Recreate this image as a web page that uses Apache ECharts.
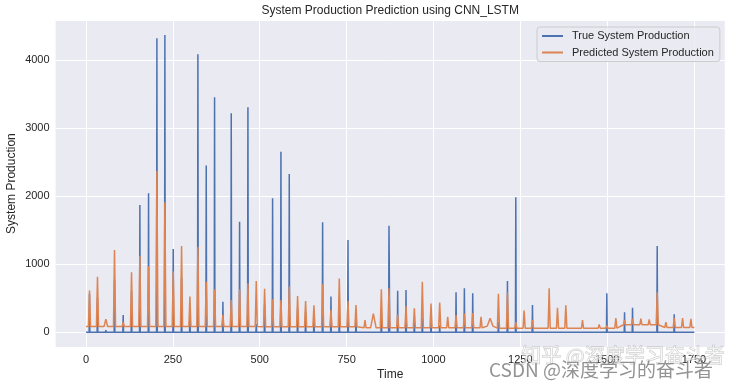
<!DOCTYPE html>
<html><head><meta charset="utf-8">
<script src="https://cdn.jsdelivr.net/npm/echarts@6/dist/echarts.min.js"></script>
<style>html,body{margin:0;padding:0;background:#fff}#c{width:732px;height:388px}</style>
</head><body><div id="c"></div>
<script>
// ---- data ----
const LAST_TIME = 1751;
const peakTime = [10,33,57,82,107,131,155,180,204,227,251,275,299,322,346,370,394,418,442,466,490,514,537,561,585,609,632,656,681,705,729,754,777,803,827,850,872,897,921,945,968,993,1018,1041,1065,1089,1113,1137,1163,1187,1213,1237,1261,1285,1309,1333,1357,1381,1405,1429,1453,1477,1499,1525,1550,1573,1597,1621,1644,1669,1693,1717,1741];
const truePeak = [560,500,30,770,254,600,1869,2041,4317,4366,
  1223,800,350,4082,2447,3451,449,3216,1624,3304,
  120,400,1968,2652,2325,350,300,250,1615,523,
  500,1355,200,0,0,300,1565,611,621,150,
  200,150,100,0,587,646,573,0,0,150,
  753,1982,0,401,0,0,0,0,0,0,
  0,0,573,0,294,361,0,0,1267,0,
  264,0,0];
const trueExtraTime = [873];
const trueExtraValue = [866];
const predPeak = [611,816,191,1208,150,881,1120,973,2369,1909,
  890,1267,523,1257,743,631,254,474,631,720,
  753,640,484,474,670,533,460,395,705,328,
  788,460,401,180,273,631,646,259,386,350,
  740,420,435,225,254,273,283,227,205,565,
  582,150,317,180,85,646,360,395,80,180,
  80,115,100,208,180,200,200,190,587,150,
  210,207,197];
const predBase = [85,85,85,85,85,85,85,85,85,85,85,85,85,85,85,85,85,85,85,85,85,
  80,80,80,80,80,80,80,80,80,80,80,80,
  65,65,65,65,65,65,65,65,65,65,65,65,65,65,65,
  90,60,60,60,60,60,60,60,60,60,60,60,60,60,60,60,
  110,110,110,110,110,
  70,70,70,70];
const predHalfWidth = [3,3,5,3,3,3,3,3,3,3,3,3,3,3,3,3,3,3,3,3,3,3,3,3,3,3,3,3,3,3,3,3,3,3,8,3,3,3,3,3,3,3,3,3,3,3,3,3,8,3,3,3,3,3,3,3,3,3,3,3,3,3,3,3,3,3,3,3,3,3,3,3,3];
const seriesNames = ['True System Production','Predicted System Production'];
const xTickStep = 250, yTickStep = 1000;

// ---- build series from the arrays ----
const trueMap = new Map();
peakTime.forEach((t,i)=>{ if (truePeak[i] > 0) trueMap.set(t, truePeak[i]); });
trueExtraTime.forEach((t,i)=>trueMap.set(t, trueExtraValue[i]));
const ts = [...trueMap.keys()].sort((a,b)=>a-b);
const trueData = [[0,0]];
ts.forEach(t=>{
  if (!trueMap.has(t-1)) trueData.push([t-1,0]);
  trueData.push([t,trueMap.get(t)]);
  if (!trueMap.has(t+1)) trueData.push([t+1,0]);
});
trueData.push([LAST_TIME,0]);

const predData = [[0,predBase[0]]];
peakTime.forEach((t,i)=>{
  const w = predHalfWidth[i];
  predData.push([t-w,predBase[i]],[t,predPeak[i]],[t+w,predBase[i]]);
});
predData.push([LAST_TIME,predBase[predBase.length-1]]);

// ---- layout (matplotlib-like) ----
const L = 55.6, R = 724.8, T = 20.1, B = 347.1;
const X0 = 86.0, X1750 = 694.0, Y0 = 332.3;
const dataMax = Math.max(...truePeak);
const yMin = -0.05*dataMax, yMax = dataMax*1.05;
const xMin = -0.05*LAST_TIME, xMax = LAST_TIME*1.05;
const pxPerY = (B-T)/(yMax-yMin);
const yTopVal = (Y0 - T)/pxPerY;

const txt = '#262626';
const font = 'Liberation Sans, Arial, sans-serif';
const plain = v => String(Math.round(v));
const chart = echarts.init(document.getElementById('c'), null, {renderer:'canvas'});
chart.setOption({
  animation:false,
  backgroundColor:'#ffffff',
  grid:[
    {left:L, right:732-R, top:T, bottom:388-B, show:true, backgroundColor:'#EAEAF2', borderWidth:0, z:0},
    {left:X0, right:732-X1750, top:T, bottom:388-B, show:false},
    {left:L, right:732-R, top:T, bottom:388-Y0, show:false}
  ],
  xAxis:[
    {type:'value', gridIndex:0, min:xMin, max:xMax, show:false},
    {type:'value', gridIndex:1, min:0, max:1750, interval:xTickStep, z:1,
      axisLine:{show:false}, axisTick:{show:false},
      axisLabel:{color:txt, fontSize:11, fontFamily:font, margin:7, formatter:plain},
      splitLine:{show:true, lineStyle:{color:'#ffffff', width:1}}},
    {type:'value', gridIndex:2, min:0, max:1, show:false}
  ],
  yAxis:[
    {type:'value', gridIndex:0, min:yMin, max:yMax, show:false},
    {type:'value', gridIndex:1, min:0, max:1, show:false},
    {type:'value', gridIndex:2, min:0, max:yTopVal, interval:yTickStep, z:1,
      axisLine:{show:false}, axisTick:{show:false},
      axisLabel:{color:txt, fontSize:11, fontFamily:font, margin:6, showMaxLabel:false, formatter:plain},
      splitLine:{show:true, lineStyle:{color:'#ffffff', width:1}}}
  ],
  legend:{
    orient:'vertical', left:537, top:27, padding:[3,6,3,5], itemGap:4.5,
    itemWidth:21, itemHeight:2, itemStyle:{borderWidth:0},
    backgroundColor:'rgba(234,234,242,0.8)', borderColor:'#cccccc', borderWidth:1, borderRadius:3,
    textStyle:{color:txt, fontSize:11, fontFamily:font, lineHeight:12, padding:[0,0,0,4]},
    data:[{name:seriesNames[0], icon:'rect'},{name:seriesNames[1], icon:'rect'}]
  },
  series:[
    {type:'line', name:seriesNames[0], xAxisIndex:0, yAxisIndex:0, data:trueData,
      showSymbol:false, symbol:'none', z:3, color:'#4C72B0',
      lineStyle:{width:1.5, color:'#4C72B0'}},
    {type:'line', name:seriesNames[1], xAxisIndex:0, yAxisIndex:0, data:predData,
      showSymbol:false, symbol:'none', z:4, color:'#DD8452',
      lineStyle:{width:1.5, color:'#DD8452'}}
  ],
  graphic:[
    {type:'text', x:(L+R)/2, y:11, style:{text:'System Production Prediction using CNN_LSTM', fill:txt, font:'12px '+font, textAlign:'center', textVerticalAlign:'middle'}},
    {type:'text', x:(L+R)/2, y:375, style:{text:'Time', fill:txt, font:'12px '+font, textAlign:'center', textVerticalAlign:'middle'}},
    {type:'text', x:12, y:(T+B)/2, rotation:Math.PI/2, style:{text:'System Production', fill:txt, font:'12px '+font, textAlign:'center', textVerticalAlign:'middle'}},
    {type:'text', x:623, y:355, z:10, style:{text:'知乎 @深度学习奋斗者', fill:'rgba(255,255,255,0.55)', stroke:'rgba(150,150,150,0.55)', lineWidth:0.8, font:'20px "Noto Sans CJK SC", sans-serif', textAlign:'center', textVerticalAlign:'middle'}},
    {type:'text', x:601, y:370, z:10, style:{text:'CSDN @深度学习的奋斗者', fill:'rgba(120,120,120,0.8)', font:'19px "Noto Sans CJK SC", sans-serif', textAlign:'center', textVerticalAlign:'middle'}}
  ]
});
</script></body></html>
